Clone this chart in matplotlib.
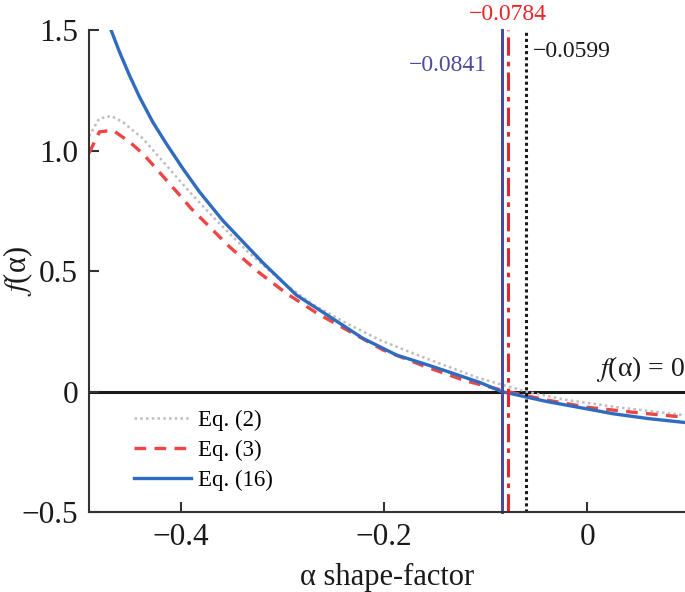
import numpy as np
import matplotlib
matplotlib.use('Agg')
import matplotlib.pyplot as plt

plt.rcParams['font.family'] = ['Liberation Serif', 'DejaVu Serif']
plt.rcParams['mathtext.fontset'] = 'stix'

# Eq. (2) - dotted gray
x_eq2 = [-0.49, -0.48, -0.4683, -0.4569, -0.4372, -0.4142, -0.3912, -0.3683,
         -0.335, -0.30, -0.27, -0.237, -0.204, -0.16, -0.106, -0.0599, -0.02,
         0.03, 0.1]
y_eq2 = [1.06, 1.133, 1.144, 1.119, 1.051, 0.940, 0.829, 0.726,
         0.585, 0.455, 0.362, 0.284, 0.214, 0.14, 0.055, 0.0, -0.035,
         -0.065, -0.10]

# Eq. (3) - red dashed
x_eq3 = [-0.49, -0.4798, -0.4667, -0.4503, -0.4372, -0.424, -0.4126, -0.401,
         -0.3896, -0.3765, -0.3519, -0.324, -0.296, -0.2657, -0.2305, -0.201,
         -0.16, -0.12, -0.0784, -0.04, 0.0, 0.05, 0.1]
y_eq3 = [0.99, 1.078, 1.085, 1.037, 0.988, 0.926, 0.871, 0.816,
         0.760, 0.705, 0.601, 0.498, 0.408, 0.325, 0.242, 0.173,
         0.105, 0.045, 0.0, -0.035, -0.065, -0.088, -0.108]

# Eq. (16) - solid blue
x_eq16 = [-0.4683, -0.4601, -0.4503, -0.4404, -0.4274, -0.4142, -0.3978, -0.3814,
          -0.3585, -0.3191, -0.2862, -0.2534, -0.2207, -0.1878, -0.155, -0.1386,
          -0.1058, -0.0841, -0.04, 0.0, 0.0254, 0.06, 0.1]
y_eq16 = [1.50, 1.41, 1.313, 1.223, 1.119, 1.030, 0.926, 0.829,
          0.71, 0.535, 0.401, 0.311, 0.221, 0.152, 0.108, 0.085,
          0.038, 0.0, -0.041, -0.072, -0.092, -0.112, -0.13]

roots = [-0.0841, -0.0784, -0.0599]
root_labels = ['\u22120.0841', '\u22120.0784', '\u22120.0599']

fig = plt.figure(figsize=(6.85, 5.92), dpi=100)
ax = fig.add_axes([0.130, 0.135, 0.87, 0.814])

ax.axhline(0, color='#1a1a1a', lw=2.2, zorder=1)

ax.plot(x_eq2, y_eq2, ls=(0, (1, 1.3)), color='#bdbdbd', lw=1.8, label='Eq. (2)')
ax.plot(x_eq3, y_eq3, ls=(0, (3.5, 2.5)), color='#ee4545', lw=2.4, label='Eq. (3)')
ax.plot(x_eq16, y_eq16, ls='-', color='#2f6cbf', lw=2.4, label='Eq. (16)')

ax.plot([roots[0], roots[0]], [-0.5, 1.5], color='#4b4b9e', lw=2.2, clip_on=False)
ax.plot([roots[1], roots[1]], [-0.5, 1.5], color='#e8262a', lw=2.2,
        ls=(0, (6, 2, 1.5, 2)), clip_on=False)
ax.plot([roots[2], roots[2]], [-0.5, 1.5], color='#1a1a1a', lw=2.2,
        ls=(0, (1, 1)), clip_on=False)

ax.text(-0.099, 1.355, root_labels[0], color='#4b4b9e', fontsize=17,
        ha='right', va='center')
ax.text(roots[1], 1.565, root_labels[1], color='#e8262a', fontsize=17,
        ha='center', va='center', clip_on=False)
ax.text(-0.0536, 1.41, root_labels[2], color='#1a1a1a', fontsize=17,
        ha='left', va='center')

ax.text(0.096, 0.03, '$f$(\u03b1) = 0', fontsize=20, ha='right', va='bottom',
        color='#1a1a1a')

ax.set_xlim(-0.49, 0.096)
ax.set_ylim(-0.5, 1.5)

ax.set_xticks([-0.4, -0.2, 0])
ax.set_xticklabels(['\u22120.4', '\u22120.2', '0'])
ax.set_yticks([-0.5, 0, 0.5, 1.0, 1.5])
ax.set_yticklabels(['\u22120.5', '0', '0.5', '1.0', '1.5'])
ax.tick_params(direction='in', length=7, width=1.5, labelsize=22.5,
               colors='#333333', labelcolor='#1a1a1a', pad=8)

for side in ['top', 'right']:
    ax.spines[side].set_visible(False)
for side in ['left', 'bottom']:
    ax.spines[side].set_linewidth(1.5)
    ax.spines[side].set_color('#333333')

ax.set_xlabel('\u03b1 shape-factor', fontsize=22, color='#1a1a1a', labelpad=8)
ax.set_ylabel('$f$(\u03b1)', fontsize=22, color='#1a1a1a')
ax.yaxis.set_label_coords(-0.09, 0.5)

ax.legend(loc='lower left', bbox_to_anchor=(0.04, 0.0), frameon=False,
          fontsize=16.5, handlelength=2.5, labelspacing=0.4, handletextpad=0.3)

fig.savefig('out.png', dpi=100)
